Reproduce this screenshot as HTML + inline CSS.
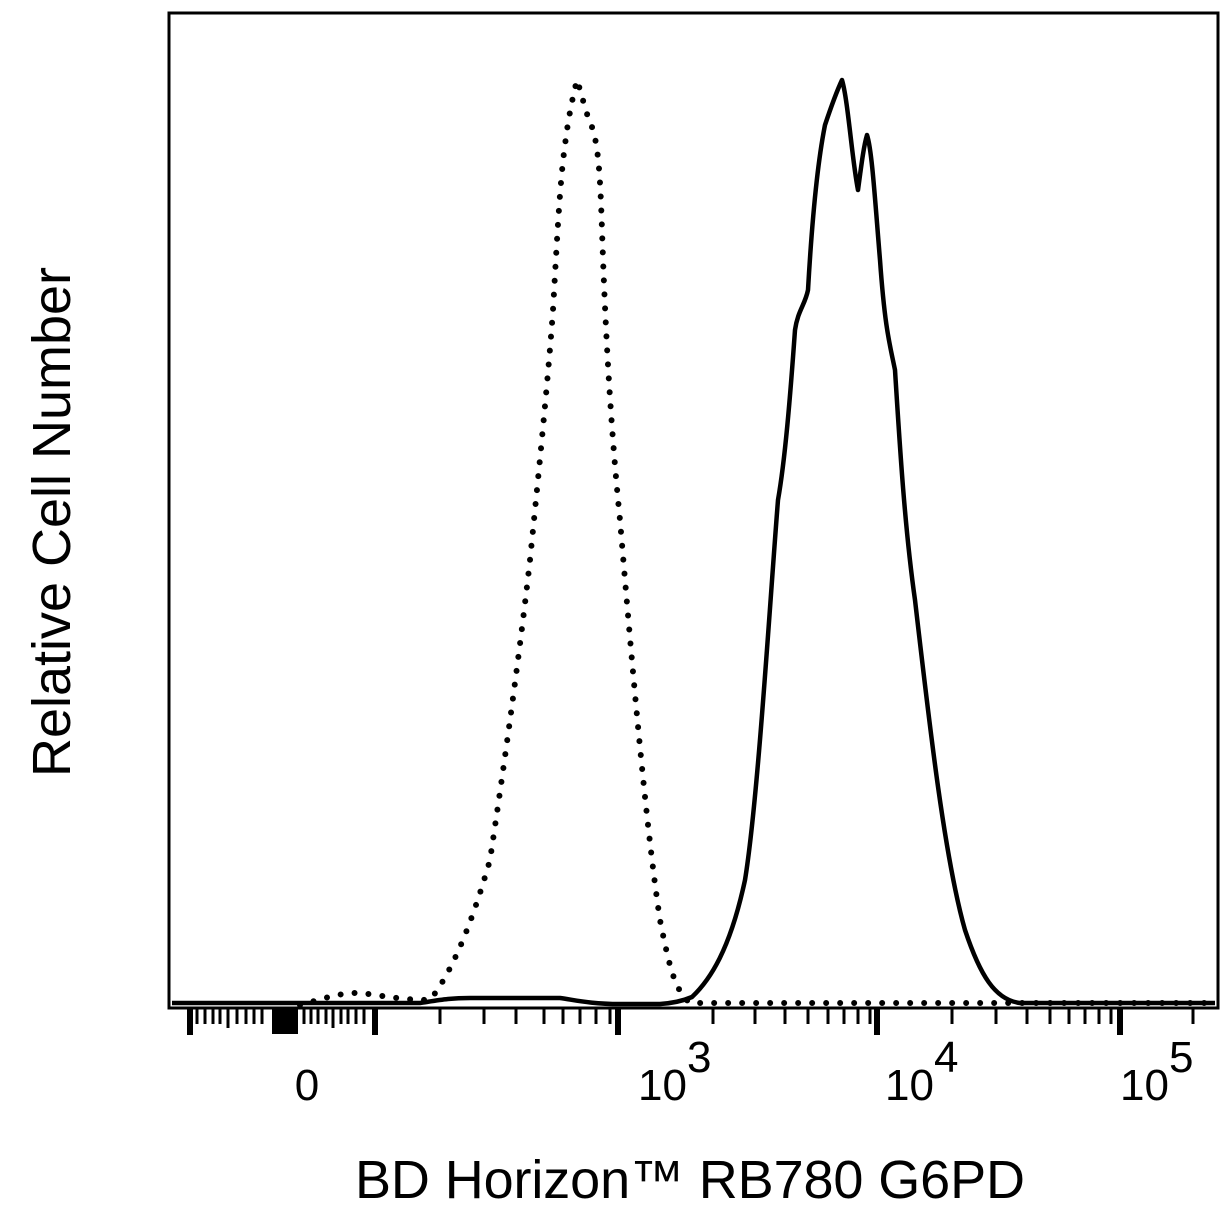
<!DOCTYPE html>
<html><head><meta charset="utf-8"><style>
html,body{margin:0;padding:0;background:#fff;}
svg{display:block}
text{font-family:"Liberation Sans",Arial,sans-serif;fill:#000}
</style></head><body>
<svg width="1230" height="1230" viewBox="0 0 1230 1230">
<rect x="169" y="13" width="1049" height="995" fill="none" stroke="#000" stroke-width="3"/>
<g stroke="#000" stroke-width="3">
<line x1="190" y1="1008" x2="190" y2="1035" stroke-width="6"/>
<line x1="197" y1="1008" x2="197" y2="1024"/><line x1="205" y1="1008" x2="205" y2="1024"/><line x1="213" y1="1008" x2="213" y2="1024"/><line x1="220" y1="1008" x2="220" y2="1024"/>
<line x1="228" y1="1008" x2="228" y2="1028"/><line x1="237" y1="1008" x2="237" y2="1024"/><line x1="246" y1="1008" x2="246" y2="1024"/><line x1="254" y1="1008" x2="254" y2="1024"/><line x1="262" y1="1008" x2="262" y2="1024"/>
<rect x="272" y="1008" width="26" height="26" fill="#000" stroke="none"/>
<line x1="304" y1="1008" x2="304" y2="1024"/><line x1="311" y1="1008" x2="311" y2="1024"/><line x1="318" y1="1008" x2="318" y2="1024"/><line x1="326" y1="1008" x2="326" y2="1024"/>
<line x1="333" y1="1008" x2="333" y2="1028"/><line x1="341" y1="1008" x2="341" y2="1024"/><line x1="348" y1="1008" x2="348" y2="1024"/><line x1="356" y1="1008" x2="356" y2="1024"/><line x1="364" y1="1008" x2="364" y2="1024"/>
<line x1="375" y1="1008" x2="375" y2="1035" stroke-width="6"/>
<line x1="440" y1="1008" x2="440" y2="1024"/><line x1="484" y1="1008" x2="484" y2="1024"/><line x1="516" y1="1008" x2="516" y2="1024"/><line x1="544" y1="1008" x2="544" y2="1024"/><line x1="563" y1="1008" x2="563" y2="1024"/><line x1="580" y1="1008" x2="580" y2="1024"/><line x1="596" y1="1008" x2="596" y2="1024"/><line x1="610" y1="1008" x2="610" y2="1024"/>
<line x1="618" y1="1008" x2="618" y2="1035" stroke-width="6"/>
<line x1="713" y1="1008" x2="713" y2="1024"/><line x1="755" y1="1008" x2="755" y2="1024"/><line x1="785" y1="1008" x2="785" y2="1024"/><line x1="808" y1="1008" x2="808" y2="1024"/><line x1="828" y1="1008" x2="828" y2="1024"/><line x1="844" y1="1008" x2="844" y2="1024"/><line x1="858" y1="1008" x2="858" y2="1024"/><line x1="870" y1="1008" x2="870" y2="1024"/>
<line x1="877" y1="1008" x2="877" y2="1035" stroke-width="6"/>
<line x1="952" y1="1008" x2="952" y2="1024"/><line x1="996" y1="1008" x2="996" y2="1024"/><line x1="1027" y1="1008" x2="1027" y2="1024"/><line x1="1050" y1="1008" x2="1050" y2="1024"/><line x1="1069" y1="1008" x2="1069" y2="1024"/><line x1="1085" y1="1008" x2="1085" y2="1024"/><line x1="1099" y1="1008" x2="1099" y2="1024"/><line x1="1111" y1="1008" x2="1111" y2="1024"/>
<line x1="1120" y1="1008" x2="1120" y2="1035" stroke-width="6"/>
<line x1="1193" y1="1008" x2="1193" y2="1024"/>
</g>
<path d="M300,1005 C320,1000 340,992 360,993 C380,995 400,1000 430,1000 C450,975 470,930 490,860 C505,760 520,650 530,560 C538,480 548,380 553,310 C557,240 560,180 565,145 C568,120 572,100 577,80 C582,95 585,110 590,122 C598,140 600,170 602,230 C605,320 610,420 620,520 C630,640 645,820 660,920 C670,970 675,990 690,1003 L1210,1003" fill="none" stroke="#000" stroke-width="6" stroke-linecap="round" stroke-dasharray="0 14"/>
<path d="M172,1003 L420,1003 C440,1000 450,998 470,998 L560,998 C575,1000 590,1004 620,1004 L660,1004 C675,1003 685,1000 692,997 C710,980 730,950 745,880 C758,800 770,600 778,500 C785,460 790,400 795,330 C798,310 805,305 808,290 C812,220 818,160 825,125 C830,110 835,95 842,80 C848,100 852,160 858,190 C862,160 864,145 867,135 C872,150 875,200 880,260 C885,330 890,345 895,370 C900,450 905,530 915,600 C930,730 945,860 965,930 C980,975 995,1000 1020,1003 L1215,1003" fill="none" stroke="#000" stroke-width="4.5" stroke-linejoin="round"/>
<text x="307" y="1100" font-size="44" text-anchor="middle">0</text>
<text x="638" y="1100" font-size="44">10</text><text x="687" y="1072" font-size="44">3</text>
<text x="885" y="1100" font-size="44">10</text><text x="934" y="1072" font-size="44">4</text>
<text x="1120" y="1100" font-size="44">10</text><text x="1169" y="1072" font-size="44">5</text>
<text x="690" y="1198" font-size="54" text-anchor="middle" textLength="670">BD Horizon™ RB780 G6PD</text>
<text transform="translate(70,522) rotate(-90)" font-size="54" text-anchor="middle" textLength="510">Relative Cell Number</text>
</svg>
</body></html>
